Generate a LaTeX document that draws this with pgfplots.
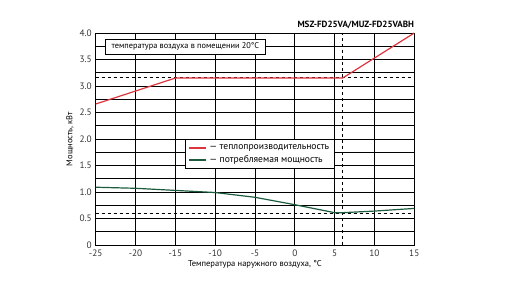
\documentclass[border=0pt]{standalone}
\usepackage{pgfplots}
\pgfplotsset{compat=1.18}
\usepackage{fontspec}
\setmainfont{PT Sans}
\definecolor{heatred}{RGB}{222,52,62}
\definecolor{powgreen}{RGB}{28,92,62}
\begin{document}
\begin{tikzpicture}[x=1pt,y=1pt]
\useasboundingbox (0,0) rectangle (512,300);
\begin{axis}[
  name=ax,
  at={(95.7pt,55pt)}, anchor=south west,
  scale only axis, width=318.6pt, height=212pt,
  xmin=-25, xmax=15, ymin=0, ymax=4,
  xtick={-25,-20,...,15},
  ytick={0,0.5,...,4},
  yticklabels={0,0.5,1.0,1.5,2.0,2.5,3.0,3.5,4.0},
  minor y tick num=1,
  grid=both,
  major grid style={black, line width=0.8pt},
  minor grid style={black, line width=0.8pt},
  axis line style={black, line width=0.8pt},
  major tick length=0pt, minor tick length=0pt,
  tick label style={font=\fontsize{9.3}{10}\selectfont, text=black!80},
  xticklabel style={yshift=-1.5pt},
  yticklabel style={xshift=-0.5pt},
  /pgf/number format/assume math mode=true,
  xlabel={Температура наружного воздуха, °C},
  ylabel={Мощность, кВт},
  label style={font=\fontsize{8.5}{9}\selectfont},
  xlabel style={yshift=3pt},
  ylabel style={yshift=-1pt},
  legend style={at={(axis cs:-13.8,2.0)}, anchor=north west, draw=black, line width=0.8pt,
    font=\fontsize{9.6}{11}\selectfont, row sep=0.5pt, inner xsep=3pt, inner ysep=3pt},
  legend cell align=left,
  legend image code/.code={\draw[#1, line width=2pt] (0pt,0pt) -- (17pt,0pt);},
]
\addplot[black, dashed, line width=0.7pt, forget plot] coordinates {(-25,3.17) (15,3.17)};
\addplot[black, dashed, line width=0.7pt, forget plot] coordinates {(-25,0.6) (15,0.6)};
\addplot[black, dashed, line width=0.7pt, forget plot] coordinates {(6,0) (6,4)};
\addplot[heatred, line width=1.2pt] coordinates {(-25,2.66) (-15,3.15) (6,3.15) (15,4.0)};
\addlegendentry{— теплопроизводительность}
\addplot[powgreen, line width=1.2pt] coordinates {(-25,1.09) (-20,1.07) (-15,1.03) (-10,0.99) (-5,0.9) (0,0.76) (5,0.61) (6,0.61) (10,0.64) (15,0.69)};
\addlegendentry{— потребляемая мощность}
\node[draw=black, line width=0.8pt, fill=white, anchor=west, inner xsep=6pt, inner ysep=4pt,
  font=\fontsize{8.3}{9}\selectfont] at (axis cs:-23.8,3.74) {температура воздуха в помещении 20°C};
\end{axis}
\node[anchor=south east, font=\bfseries\fontsize{9}{10}\selectfont, inner sep=0pt] at ([yshift=4pt]ax.north east) {MSZ-FD25VA/MUZ-FD25VABH};
\end{tikzpicture}
\end{document}
